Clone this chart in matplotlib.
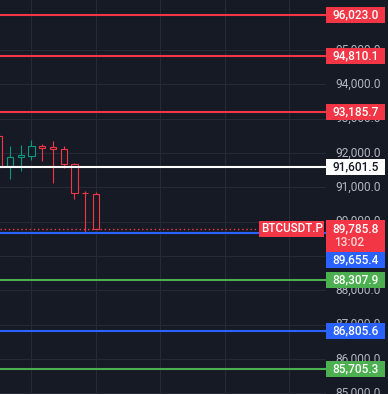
import matplotlib.pyplot as plt
from matplotlib.patches import Rectangle
from matplotlib.transforms import blended_transform_factory

# candles (index 0 is cut off at the left edge)
c_idx = [0, 1, 2, 3, 4, 5, 6, 7, 8, 9]
c_open = [92491, 91626, 91870, 91917, 92199, 92162, 92103, 91666, 90830, 90801]
c_high = [92607, 92199, 92229, 92374, 92258, 92345, 92199, 91713, 90889, 90860]
c_low = [91560, 91247, 91471, 91792, 91763, 91131, 91559, 90656, 89674, 89786]
c_close = [91588, 91870, 91937, 92199, 92150, 92103, 91666, 90822, 90822, 89785.8]

# horizontal level lines with their price labels
lvl_price = [96023.0, 94810.1, 93185.7, 91601.5, 89655.4, 88307.9, 86805.6, 85705.3]
lvl_color = ['#f23645', '#f23645', '#f23645', '#ffffff', '#2962ff', '#4caf50', '#2962ff', '#4caf50']
lvl_text = ['#ffffff', '#ffffff', '#ffffff', '#131722', '#ffffff', '#ffffff', '#ffffff', '#ffffff']
lvl_shift = [0, 0, 0, 0, 26.6, 0, 0, 0]   # label pushed down (pixels) when overlapping

last_price = 89785.8
last_time = '13:02'
symbol = 'BTCUSDT.P'

yticks = [85000, 86000, 87000, 88000, 89000, 90000, 91000, 92000, 93000, 94000, 95000, 96000]
xgrid = [3, 9, 15, 21, 27]

bg = '#161a25'
grid = '#262a36'
red = '#f23645'
green = '#089981'

W, H = 388, 394
fig = plt.figure(figsize=(W / 100, H / 100), dpi=100, facecolor=bg)
ax = fig.add_axes([0, 0, 326 / W, 1])
ax.set_facecolor(bg)
ylo, yhi = 84977, 96451
ax.set_ylim(ylo, yhi)
ax.set_xlim(0.07, 30.4)
ppx = (yhi - ylo) / H   # price units per pixel
for s in ax.spines.values():
    s.set_visible(False)
ax.set_xticks([])
ax.set_yticks([])
for g in yticks:
    ax.axhline(g, color=grid, lw=0.75, zorder=0)
for g in xgrid:
    ax.axvline(g, color=grid, lw=0.75, zorder=0)

# candles
bw = 0.59
for i, o, h, l, c in zip(c_idx, c_open, c_high, c_low, c_close):
    col = green if c >= o else red
    ax.vlines(i, l, h, color=col, lw=0.8, zorder=3)
    lo, hi = min(o, c), max(o, c)
    ax.add_patch(Rectangle((i - bw / 2, lo), bw, max(hi - lo, ppx * 0.3),
                           facecolor=bg, edgecolor=col, lw=0.8, zorder=4))

# level lines
for p, col in zip(lvl_price, lvl_color):
    ax.axhline(p, color=col, lw=1.5, zorder=5)

# last price dotted line
tr = blended_transform_factory(ax.transAxes, ax.transData)
ax.plot([0, 259 / 326], [last_price, last_price], color=red, lw=1.0,
        linestyle=(0, (1, 2)), transform=tr, zorder=5)
ax.add_patch(Rectangle((259.3 / 326, last_price - 8.5 * ppx), 65 / 326, 16.5 * ppx,
                       facecolor=red, edgecolor='none', transform=tr, zorder=6, clip_on=False))
ax.text(292 / 326, last_price, symbol, color='white', fontsize=8.4, family='Roboto',
        fontweight='medium', ha='center', va='center', transform=tr, zorder=7)

# price scale
ax2 = fig.add_axes([326 / W, 0, 62 / W, 1])
ax2.set_facecolor(bg)
ax2.set_xlim(0, 62)
ax2.set_ylim(ylo, yhi)
ax2.axis('off')
fnt = dict(family='Roboto', fontsize=8.6, fontweight='medium')
for t in yticks:
    ax2.text(9, t, f'{t:,.1f}', color='#b2b5be', ha='left', va='center', zorder=1,
             family='Roboto', fontsize=8.6)

bh = 16 * ppx
for p, col, tc, sh in zip(lvl_price, lvl_color, lvl_text, lvl_shift):
    yc = p - sh * ppx
    ax2.add_patch(Rectangle((0, yc - bh / 2), 59, bh, facecolor=col, edgecolor='none', zorder=3))
    ax2.text(30, yc, f'{p:,.1f}', color=tc, ha='center', va='center', zorder=4, **fnt)

# last price box with countdown
top = last_price + 8.5 * ppx
ax2.add_patch(Rectangle((0, top - 31.3 * ppx), 59, 31.3 * ppx, facecolor=red, edgecolor='none', zorder=5))
ax2.text(30, last_price, f'{last_price:,.1f}', color='white', ha='center', va='center', zorder=6, **fnt)
ax2.text(8, last_price - 13.7 * ppx, last_time, color='#ffd7d9', ha='left', va='center', zorder=6, **fnt)

fig.savefig('out.png', dpi=100, facecolor=bg)
